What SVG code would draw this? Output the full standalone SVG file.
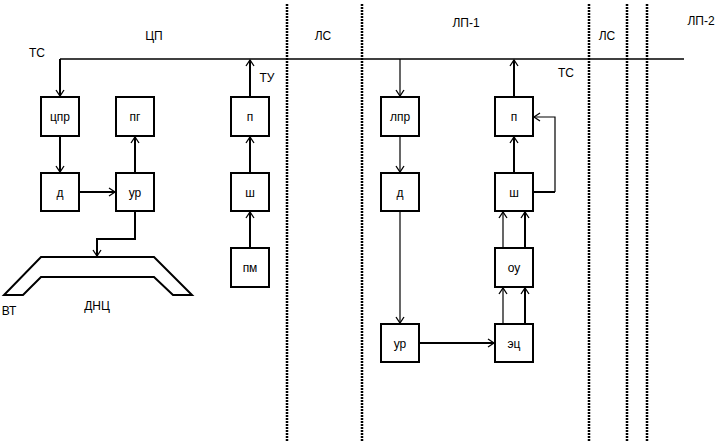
<svg xmlns="http://www.w3.org/2000/svg" width="720" height="445" viewBox="0 0 720 445">
<style>
text{font-family:"Liberation Sans",Arial,sans-serif;font-size:12px;fill:#000;text-anchor:middle}
.box rect{fill:#fff;stroke:#000;stroke-width:2}
.dot{stroke:#000;stroke-width:2.5;stroke-dasharray:2,1;fill:none}
.th{stroke:#000;stroke-width:2;fill:none}
.tn{stroke:#000;stroke-width:1.2;fill:none}
</style>
<defs>
<marker id="a" viewBox="-8 -6 10 12" markerWidth="10" markerHeight="12" refX="0" refY="0" orient="auto" markerUnits="userSpaceOnUse">
<path d="M-6,-4 L0,0 L-6,4" fill="none" stroke="#000" stroke-width="1.3"/>
</marker>
</defs>
<g id="dividers">
<line class="dot" x1="287" y1="4" x2="287" y2="441"/>
<line class="dot" x1="362" y1="4" x2="362" y2="441"/>
<line class="dot" x1="589" y1="4" x2="589" y2="441"/>
<line class="dot" x1="627" y1="4" x2="627" y2="441"/>
<line class="dot" x1="647" y1="4" x2="647" y2="441"/>
</g>
<g id="labels">
<text x="154" y="40">ЦП</text>
<text x="323" y="40">ЛС</text>
<text x="466" y="27">ЛП-1</text>
<text x="607" y="40">ЛС</text>
<text x="701" y="25">ЛП-2</text>
<text x="37" y="57">ТС</text>
<text x="267" y="82">ТУ</text>
<text x="566" y="77">ТС</text>
<text x="9" y="315">ВТ</text>
<text x="97" y="310">ДНЦ</text>
</g>
<g id="dnc">
<polygon points="41,257 154,257 192,295 173,295 154,277 41,277 23,295 4,295" fill="none" stroke="#000" stroke-width="2"/>
</g>
<g id="connectors">
<line x1="60" y1="59" x2="684" y2="59" stroke="#000" stroke-width="1.3"/>
<path class="th" d="M60,59 V96" marker-end="url(#a)"/>
<path class="th" d="M60,136 V172" marker-end="url(#a)"/>
<path class="th" d="M79,192 H115" marker-end="url(#a)"/>
<path class="th" d="M135,173 V137" marker-end="url(#a)"/>
<path class="th" d="M135,211 V239 H97 V256" marker-end="url(#a)"/>
<path class="th" d="M250,248 V212" marker-end="url(#a)"/>
<path class="th" d="M250,173 V137" marker-end="url(#a)"/>
<path class="th" d="M250,97 V60" marker-end="url(#a)"/>
<path class="tn" d="M400,59 V96" marker-end="url(#a)"/>
<path class="tn" d="M400,136 V172" marker-end="url(#a)"/>
<path class="tn" d="M400,211 V323" marker-end="url(#a)"/>
<path class="th" d="M419,343 H494" marker-end="url(#a)"/>
<path class="tn" d="M503,324 V288" marker-end="url(#a)"/>
<path class="th" d="M525,324 V288" marker-end="url(#a)"/>
<path class="tn" d="M503,248 V212" marker-end="url(#a)"/>
<path class="th" d="M525,248 V212" marker-end="url(#a)"/>
<path class="th" d="M514,173 V137" marker-end="url(#a)"/>
<path class="th" d="M514,97 V60" marker-end="url(#a)"/>
<path class="th" d="M533,192 H555"/>
<path class="tn" d="M555,192 V117 H534" marker-end="url(#a)"/>
</g>
<g id="n-cpr" class="box"><rect x="41" y="97" width="38" height="39"/><text x="60" y="121">цпр</text></g>
<g id="n-pg" class="box"><rect x="116" y="97" width="38" height="39"/><text x="135" y="121">пг</text></g>
<g id="n-d1" class="box"><rect x="41" y="173" width="38" height="38"/><text x="60" y="197">д</text></g>
<g id="n-ur1" class="box"><rect x="116" y="173" width="38" height="38"/><text x="135" y="197">ур</text></g>
<g id="n-p1" class="box"><rect x="231" y="97" width="38" height="39"/><text x="250" y="121">п</text></g>
<g id="n-sh1" class="box"><rect x="231" y="173" width="38" height="38"/><text x="250" y="197">ш</text></g>
<g id="n-pm" class="box"><rect x="231" y="248" width="38" height="39"/><text x="250" y="272">пм</text></g>
<g id="n-lpr" class="box"><rect x="381" y="97" width="38" height="39"/><text x="400" y="121">лпр</text></g>
<g id="n-p2" class="box"><rect x="495" y="97" width="38" height="39"/><text x="514" y="121">п</text></g>
<g id="n-d2" class="box"><rect x="381" y="173" width="38" height="38"/><text x="400" y="197">д</text></g>
<g id="n-sh2" class="box"><rect x="495" y="173" width="38" height="38"/><text x="514" y="197">ш</text></g>
<g id="n-ou" class="box"><rect x="495" y="248" width="38" height="39"/><text x="514" y="272">оу</text></g>
<g id="n-ur2" class="box"><rect x="381" y="324" width="38" height="38"/><text x="400" y="348">ур</text></g>
<g id="n-ec" class="box"><rect x="495" y="324" width="38" height="38"/><text x="514" y="348">эц</text></g>
</svg>
